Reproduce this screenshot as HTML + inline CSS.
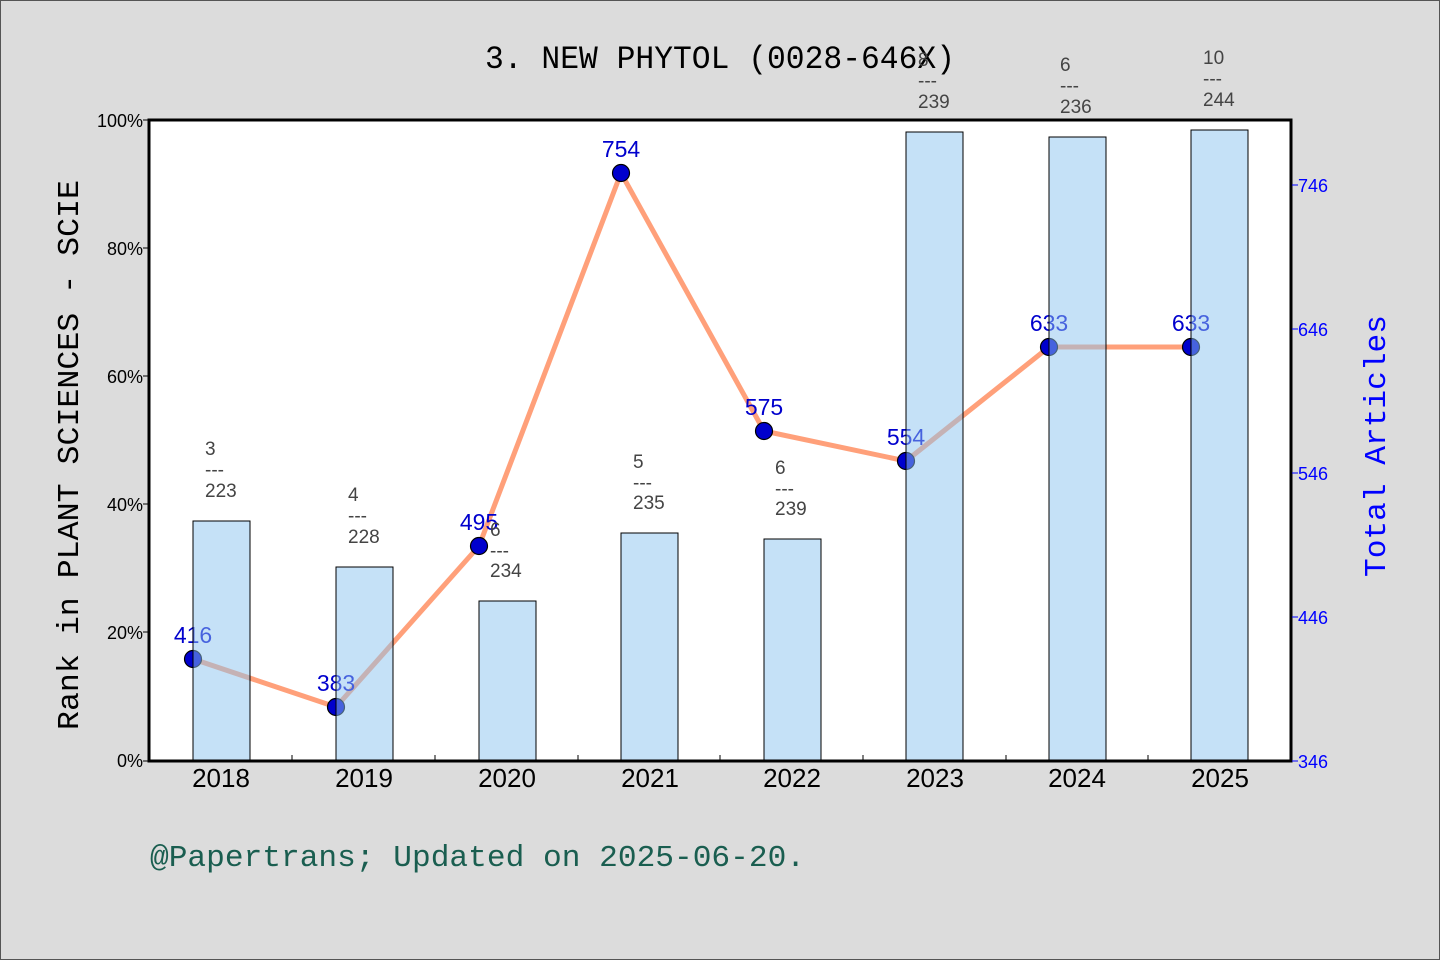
<!DOCTYPE html>
<html><head><meta charset="utf-8"><style>
html,body{margin:0;padding:0;background:#dcdcdc;}
svg{display:block;}
</style></head><body>
<svg width="1440" height="960" xmlns="http://www.w3.org/2000/svg">
<rect x="0.5" y="0.5" width="1439" height="959" fill="#dcdcdc" stroke="#555" stroke-width="1"/>
<rect x="149" y="120" width="1142" height="641" fill="#fff"/>
<text x="720" y="68" text-anchor="middle" font-family="Liberation Mono, monospace" font-size="32" fill="#000" textLength="470" lengthAdjust="spacingAndGlyphs">3. NEW PHYTOL (0028-646X)</text>
<polyline points="193,659 336,707 479,546 621,173 764,431 906,461 1049,347 1191,347" fill="none" stroke="#FFA07A" stroke-width="5" stroke-linejoin="round"/>
<g fill="#0000CD" stroke="#000" stroke-width="1.2">
<circle cx="193" cy="659" r="8.5"/><circle cx="336" cy="707" r="8.5"/><circle cx="479" cy="546" r="8.5"/><circle cx="621" cy="173" r="8.5"/><circle cx="764" cy="431" r="8.5"/><circle cx="906" cy="461" r="8.5"/><circle cx="1049" cy="347" r="8.5"/><circle cx="1191" cy="347" r="8.5"/>
</g>
<g font-family="Liberation Sans, sans-serif" font-size="23" fill="#0000CD" text-anchor="middle">
<text x="193" y="643">416</text><text x="336" y="691">383</text><text x="479" y="530">495</text><text x="621" y="157">754</text><text x="764" y="415">575</text><text x="906" y="445">554</text><text x="1049" y="331">633</text><text x="1191" y="331">633</text>
</g>
<g fill="rgb(140,195,240)" fill-opacity="0.5" stroke="#000" stroke-width="1">
<rect x="193" y="521" width="57" height="240"/>
<rect x="336" y="567" width="57" height="194"/>
<rect x="479" y="601" width="57" height="160"/>
<rect x="621" y="533" width="57" height="228"/>
<rect x="764" y="539" width="57" height="222"/>
<rect x="906" y="132" width="57" height="629"/>
<rect x="1049" y="137" width="57" height="624"/>
<rect x="1191" y="130" width="57" height="631"/>
</g>
<g font-family="Liberation Sans, sans-serif" font-size="19" fill="#444">
<text x="205" y="455">3</text><text x="205" y="476">---</text><text x="205" y="497">223</text>
<text x="348" y="501">4</text><text x="348" y="522">---</text><text x="348" y="543">228</text>
<text x="490" y="536">6</text><text x="490" y="557">---</text><text x="490" y="577">234</text>
<text x="633" y="468">5</text><text x="633" y="489">---</text><text x="633" y="509">235</text>
<text x="775" y="474">6</text><text x="775" y="495">---</text><text x="775" y="515">239</text>
<text x="918" y="66">8</text><text x="918" y="87">---</text><text x="918" y="108">239</text>
<text x="1060" y="71">6</text><text x="1060" y="92">---</text><text x="1060" y="113">236</text>
<text x="1203" y="64">10</text><text x="1203" y="85">---</text><text x="1203" y="106">244</text>
</g>
<rect x="149" y="120" width="1142" height="641" fill="none" stroke="#000" stroke-width="3"/>
<g stroke="#000" stroke-width="1">
<line x1="292" y1="761" x2="292" y2="755"/><line x1="435" y1="761" x2="435" y2="755"/><line x1="578" y1="761" x2="578" y2="755"/><line x1="720" y1="761" x2="720" y2="755"/><line x1="863" y1="761" x2="863" y2="755"/><line x1="1006" y1="761" x2="1006" y2="755"/><line x1="1148" y1="761" x2="1148" y2="755"/>
<line x1="143" y1="120" x2="149" y2="120"/><line x1="143" y1="248" x2="149" y2="248"/><line x1="143" y1="376" x2="149" y2="376"/><line x1="143" y1="504" x2="149" y2="504"/><line x1="143" y1="632" x2="149" y2="632"/><line x1="143" y1="761" x2="149" y2="761"/>
</g>
<g font-family="Liberation Sans, sans-serif" font-size="18" fill="#000" text-anchor="end">
<text x="143" y="127">100%</text><text x="143" y="255">80%</text><text x="143" y="383">60%</text><text x="143" y="511">40%</text><text x="143" y="639">20%</text><text x="143" y="767">0%</text>
</g>
<g stroke="#00f" stroke-width="1">
<line x1="1292" y1="185" x2="1298" y2="185"/><line x1="1292" y1="329" x2="1298" y2="329"/><line x1="1292" y1="473" x2="1298" y2="473"/><line x1="1292" y1="617" x2="1298" y2="617"/><line x1="1292" y1="761" x2="1298" y2="761"/>
</g>
<g font-family="Liberation Sans, sans-serif" font-size="18" fill="#00f">
<text x="1298" y="192">746</text><text x="1298" y="336">646</text><text x="1298" y="480">546</text><text x="1298" y="624">446</text><text x="1298" y="768">346</text>
</g>
<g font-family="Liberation Sans, sans-serif" font-size="26" fill="#000" text-anchor="middle">
<text x="221" y="787">2018</text><text x="364" y="787">2019</text><text x="507" y="787">2020</text><text x="650" y="787">2021</text><text x="792" y="787">2022</text><text x="935" y="787">2023</text><text x="1077" y="787">2024</text><text x="1220" y="787">2025</text>
</g>
<text transform="translate(78,455) rotate(-90)" text-anchor="middle" font-family="Liberation Mono, monospace" font-size="31" fill="#000" textLength="550" lengthAdjust="spacingAndGlyphs">Rank in PLANT SCIENCES - SCIE</text>
<text transform="translate(1385,446) rotate(-90)" text-anchor="middle" font-family="Liberation Mono, monospace" font-size="31" fill="#00f" textLength="262" lengthAdjust="spacingAndGlyphs">Total Articles</text>
<text x="150" y="866" font-family="Liberation Mono, monospace" font-size="31" fill="#1a5e50" textLength="655" lengthAdjust="spacingAndGlyphs">@Papertrans; Updated on 2025-06-20.</text>
</svg>
</body></html>
